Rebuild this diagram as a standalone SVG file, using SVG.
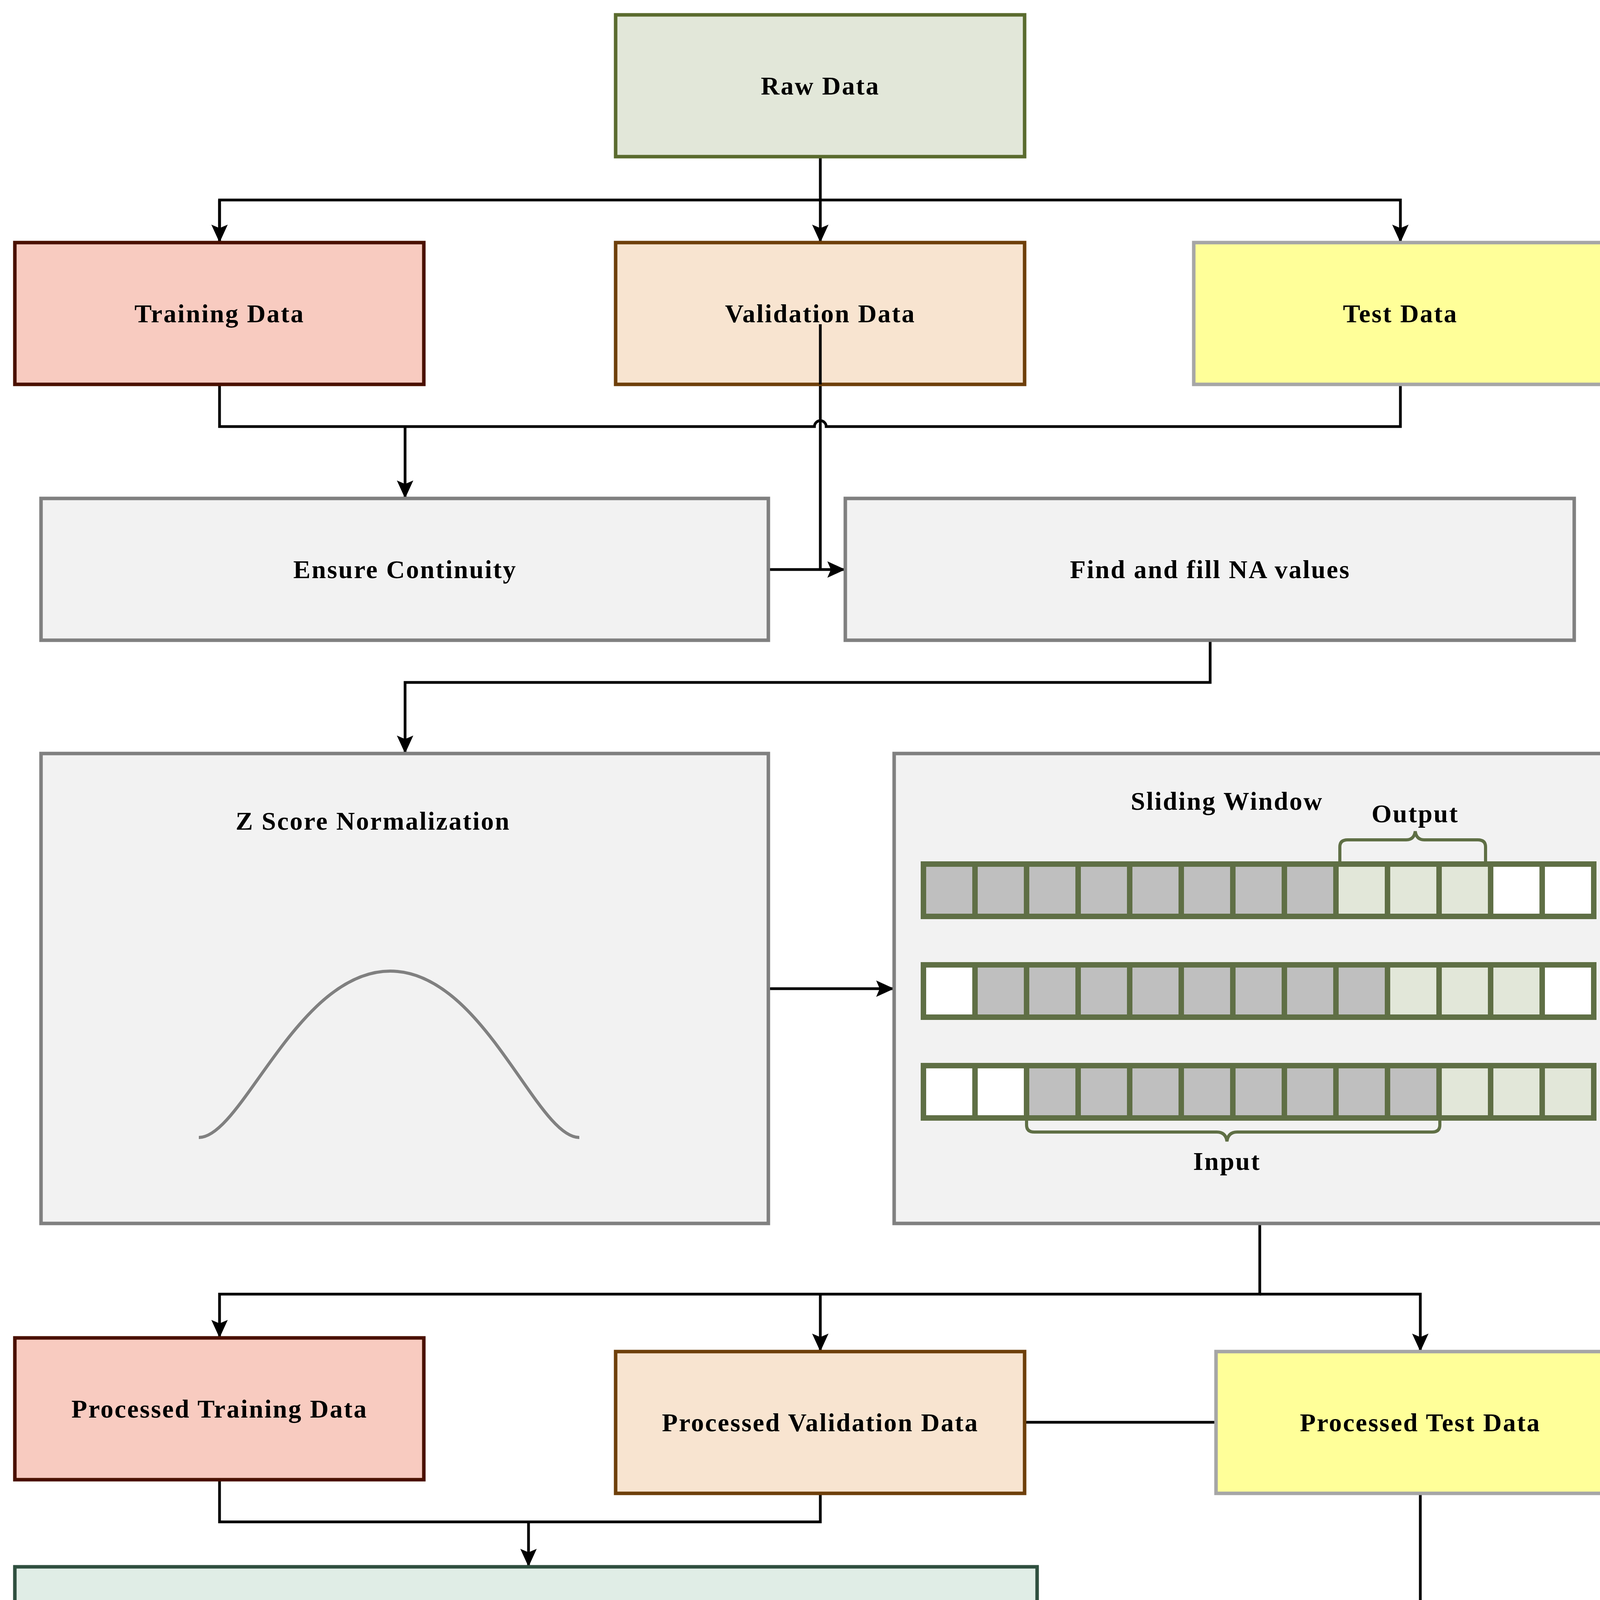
<svg xmlns="http://www.w3.org/2000/svg" width="4252" height="4970" viewBox="0 0 4252 4970">
<style>
text{font-family:"Liberation Serif","Times New Roman",serif;font-weight:bold;font-size:66px;letter-spacing:3px;fill:#000;text-anchor:middle}
.b{stroke-width:9}
.c{fill:none;stroke:#000;stroke-width:7}
.g{fill:#bfbfbf}.l{fill:#e2e7d9}.w{fill:#fff}
.cell{stroke:#5f6f45;stroke-width:14}
</style>
<defs>
<marker id="m" viewBox="-46 -21 46 42" refX="0" refY="0" markerWidth="46" markerHeight="42" orient="auto" markerUnits="userSpaceOnUse">
<path d="M0,0 L-46,-21 L-37,0 L-46,21 Z" fill="#000"/>
</marker>
</defs>
<g id="connectors" class="c">
<path d="M2100,401 V621" marker-end="url(#m)"/>
<path d="M562,621 V512 H3585 V621" marker-end="url(#m)"/>
<path d="M562,512 V621" marker-end="url(#m)"/>
<path d="M562,984 V1092 H2085 A15,15 0 0 1 2115,1092 H3585 V984"/>
<path d="M1037,1092 V1276" marker-end="url(#m)"/>
<path d="M2100,830 V1458"/>
<path d="M1967,1458 H2164" marker-end="url(#m)"/>
<path d="M3098,1639 V1747 H1037 V1929" marker-end="url(#m)"/>
<path d="M1967,2531 H2289" marker-end="url(#m)"/>
<path d="M3225,3132 V3313 H562 V3425" marker-end="url(#m)"/>
<path d="M2100,3313 V3460" marker-end="url(#m)"/>
<path d="M3225,3313 H3636 V3460" marker-end="url(#m)"/>
<path d="M2623,3641 H3113"/>
<path d="M562,3788 V3896 H2100 V3823"/>
<path d="M1353,3896 V4011" marker-end="url(#m)"/>
<path d="M1353,4373 V4482 H3636 V3823"/>
<path d="M2133,4482 V4593" marker-end="url(#m)"/>
</g>
<g id="raw"><rect class="b" x="1576" y="38" width="1047" height="363" fill="#e2e7d9" stroke="#5a6b2e"/><text x="2100" y="242">Raw Data</text></g>
<g id="train"><rect class="b" x="38" y="621" width="1047" height="363" fill="#f8cbc0" stroke="#4a1000"/><text x="562" y="825">Training Data</text></g>
<g id="val"><rect class="b" x="1576" y="621" width="1047" height="363" fill="#f8e4d0" stroke="#6e3f0a"/><text x="2100" y="825">Validation Data</text></g>
<g id="test"><rect class="b" x="3056" y="621" width="1050" height="363" fill="#ffff99" stroke="#a6a6a6"/><text x="3585" y="825">Test Data</text></g>
<path d="M2100,830 V984" stroke="#000" stroke-width="7"/>
<g id="ensure"><rect class="b" x="105" y="1276" width="1862" height="363" fill="#f2f2f2" stroke="#808080"/><text x="1037" y="1480">Ensure Continuity</text></g>
<g id="findna"><rect class="b" x="2164" y="1276" width="1866" height="363" fill="#f2f2f2" stroke="#808080"/><text x="3098" y="1480">Find and fill NA values</text></g>
<g id="zscore"><rect class="b" x="105" y="1929" width="1862" height="1203" fill="#f2f2f2" stroke="#808080"/><text x="955" y="2124">Z Score Normalization</text>
<path d="M509,2912 C620,2912 760,2486 999,2486 C1238,2486 1372,2912 1483,2912" fill="none" stroke="#808080" stroke-width="8"/></g>
<g id="sliding"><rect class="b" x="2289" y="1929" width="1865" height="1203" fill="#f2f2f2" stroke="#808080"/>
<text x="3141" y="2073">Sliding Window</text>
<text x="3623" y="2105">Output</text>
<text x="3141" y="2995">Input</text>
<path d="M3430,2206 V2168 Q3430,2150 3450,2150 H3600 Q3620,2150 3623,2128 Q3626,2150 3646,2150 H3783 Q3803,2150 3803,2168 V2206" fill="none" stroke="#5f6f45" stroke-width="8"/>
<path d="M2628,2862 V2880 Q2628,2898 2648,2898 H3115 Q3138,2898 3141,2922 Q3144,2898 3167,2898 H3666 Q3686,2898 3686,2880 V2862" fill="none" stroke="#5f6f45" stroke-width="8"/>
<g class="cell">
<rect class="g" x="2364" y="2212" width="132" height="134"/><rect class="g" x="2496" y="2212" width="132" height="134"/><rect class="g" x="2628" y="2212" width="132" height="134"/><rect class="g" x="2760" y="2212" width="132" height="134"/><rect class="g" x="2892" y="2212" width="132" height="134"/><rect class="g" x="3024" y="2212" width="132" height="134"/><rect class="g" x="3156" y="2212" width="132" height="134"/><rect class="g" x="3288" y="2212" width="132" height="134"/><rect class="l" x="3420" y="2212" width="132" height="134"/><rect class="l" x="3552" y="2212" width="132" height="134"/><rect class="l" x="3684" y="2212" width="132" height="134"/><rect class="w" x="3816" y="2212" width="132" height="134"/><rect class="w" x="3948" y="2212" width="132" height="134"/>
<rect class="w" x="2364" y="2470" width="132" height="134"/><rect class="g" x="2496" y="2470" width="132" height="134"/><rect class="g" x="2628" y="2470" width="132" height="134"/><rect class="g" x="2760" y="2470" width="132" height="134"/><rect class="g" x="2892" y="2470" width="132" height="134"/><rect class="g" x="3024" y="2470" width="132" height="134"/><rect class="g" x="3156" y="2470" width="132" height="134"/><rect class="g" x="3288" y="2470" width="132" height="134"/><rect class="g" x="3420" y="2470" width="132" height="134"/><rect class="l" x="3552" y="2470" width="132" height="134"/><rect class="l" x="3684" y="2470" width="132" height="134"/><rect class="l" x="3816" y="2470" width="132" height="134"/><rect class="w" x="3948" y="2470" width="132" height="134"/>
<rect class="w" x="2364" y="2728" width="132" height="134"/><rect class="w" x="2496" y="2728" width="132" height="134"/><rect class="g" x="2628" y="2728" width="132" height="134"/><rect class="g" x="2760" y="2728" width="132" height="134"/><rect class="g" x="2892" y="2728" width="132" height="134"/><rect class="g" x="3024" y="2728" width="132" height="134"/><rect class="g" x="3156" y="2728" width="132" height="134"/><rect class="g" x="3288" y="2728" width="132" height="134"/><rect class="g" x="3420" y="2728" width="132" height="134"/><rect class="g" x="3552" y="2728" width="132" height="134"/><rect class="l" x="3684" y="2728" width="132" height="134"/><rect class="l" x="3816" y="2728" width="132" height="134"/><rect class="l" x="3948" y="2728" width="132" height="134"/>
</g></g>
<g id="ptrain"><rect class="b" x="38" y="3425" width="1047" height="363" fill="#f8cbc0" stroke="#4a1000"/><text x="562" y="3629">Processed Training Data</text></g>
<g id="pval"><rect class="b" x="1576" y="3460" width="1047" height="363" fill="#f8e4d0" stroke="#6e3f0a"/><text x="2100" y="3664">Processed Validation Data</text></g>
<g id="ptest"><rect class="b" x="3113" y="3460" width="1047" height="363" fill="#ffff99" stroke="#a6a6a6"/><text x="3636" y="3664">Processed Test Data</text></g>
<g id="mtrain"><rect class="b" x="38" y="4011" width="2617" height="362" fill="#e0ede6" stroke="#2f4f3f"/><text x="1353" y="4214">Model Training</text></g>
<g id="meval"><rect class="b" x="38" y="4593" width="4189" height="363" fill="#66ff33" stroke="#3d6b1f"/><text x="2133" y="4797">Model Evaluation</text></g>
</svg>
